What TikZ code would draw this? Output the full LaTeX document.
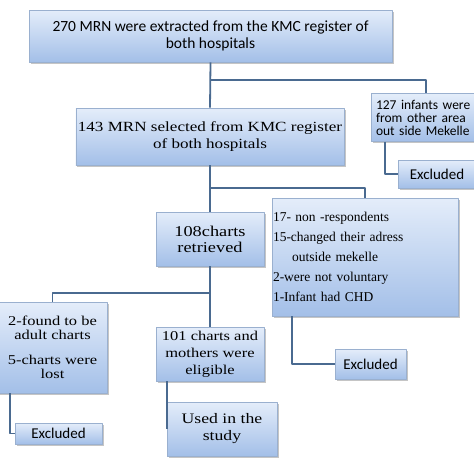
\documentclass[tikz,border=0pt]{standalone}
\usepackage{fontspec}
\setmainfont{Liberation Serif}
\newfontfamily\calib{Carlito}
\newfontfamily\timesf{Liberation Serif}
\newfontfamily\timesw[FakeStretch=1.22]{Liberation Serif}
\usetikzlibrary{shadows}
\definecolor{boxtop}{HTML}{E4EDFA}
\definecolor{boxbot}{HTML}{A3BFE8}
\definecolor{boxline}{HTML}{9AB0CF}
\definecolor{linkblue}{HTML}{4A6A90}
\tikzset{
  box/.style={draw=boxline, line width=.6pt, top color=boxtop, bottom color=boxbot,
    drop shadow={shadow xshift=1.6pt, shadow yshift=-1.6pt, fill=black!50, opacity=.45},
    inner sep=2pt, align=center},
  exclbox/.style={box, font={\calib\fontsize{15}{16}\selectfont}},
  link/.style={draw=linkblue, line width=1.8pt}
}
\begin{document}
\begin{tikzpicture}[x=1pt,y=-1pt, line join=round]
				\clip (0,0) rectangle (474,474);
				\fill[white] (0,0) rectangle (474,474);
				% junctions
				\coordinate (j1) at (210,80);
				\coordinate (j2) at (210,188);
				\coordinate (j3) at (210,293);
				% boxes
				\node[box, font={\calib\fontsize{15.5}{17}\selectfont},
				  minimum width=363, minimum height=52] (mrn) at (210.5,36)
				  {270 MRN were extracted from the KMC register of\\ both hospitals};
				\node[box, font={\timesw\fontsize{14}{16.5}\selectfont},
				  minimum width=268, minimum height=57] (sel) at (210,136.5)
				  {143 MRN selected from KMC register\\ of both hospitals};
				\node[box, font={\calib\fontsize{13.5}{13}\selectfont}, align=left, inner xsep=5pt,
				  minimum width=110, minimum height=48, text width=100] (far) at (426,117.5)
				  {127 infants were\\ from other area\\ out side Mekelle};
				\node[exclbox, minimum width=78, minimum height=28] (exA) at (437,174) {Excluded};
				\node[box, font={\timesw\fontsize{15}{16}\selectfont},
				  minimum width=108, minimum height=54] (got) at (210,239)
				  {108charts\\ retrieved};
				\node[box, font={\timesf\fontsize{13.5}{20}\selectfont}, align=left, inner xsep=.5pt,
				  minimum width=186, minimum height=118, text width=184] (lost) at (365,257)
				  {17- non -respondents\\ 15-changed their adress\\ \hspace*{19pt}outside mekelle\\
				   2-were not voluntary\\ 1-Infant had CHD};
				\node[box, font={\timesw\fontsize{13.5}{14.5}\selectfont},
				  minimum width=109, minimum height=91] (adult) at (52.5,347.5)
				  {2-found to be\\ adult charts\\[10pt] 5-charts were\\ lost};
				\node[exclbox, minimum width=87, minimum height=21] (exB) at (58.5,433.5) {Excluded};
				\node[box, font={\timesw\fontsize{13.5}{17}\selectfont},
				  minimum width=108, minimum height=54] (elig) at (210,354)
				  {101 charts and\\ mothers were\\ eligible};
				\node[box, font={\timesw\fontsize{14.5}{17}\selectfont},
				  minimum width=110, minimum height=54] (used) at (222,429)
				  {Used in the\\ study};
				\node[exclbox, minimum width=71, minimum height=30] (exC) at (370.5,364) {Excluded};
				% connectors
				\draw[link] (mrn.south) -- (sel.north);
				\draw[link] (j1) -| (far.north);
				\draw[link] ([xshift=14pt]far.south west) |- (exA.west);
				\draw[link] (sel.south) -- (got.north);
				\draw[link] (j2) -| (lost.north);
				\draw[link] ([xshift=20pt]lost.south west) |- (exC.west);
				\draw[link] (got.south) -- (elig.north);
				\draw[link] (j3) -| (adult.north);
				\draw[link] ([xshift=12pt]adult.south west) |- (exB.west);
				\draw[link] ([xshift=11pt]elig.south west) |- (used.west);
			\end{tikzpicture}
\end{document}
